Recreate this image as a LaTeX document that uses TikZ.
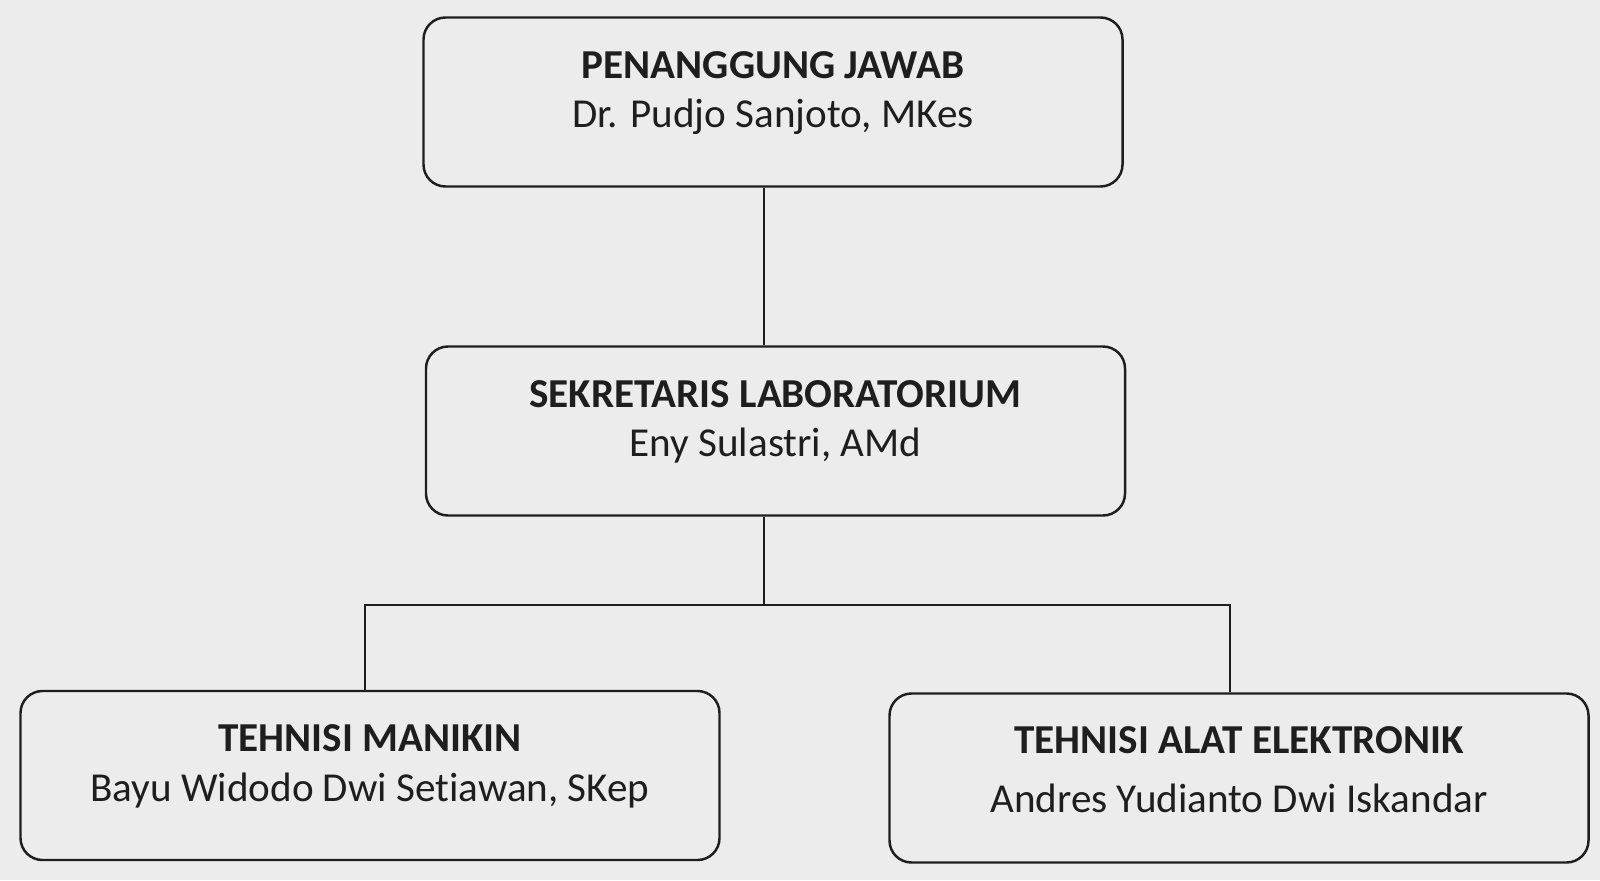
\documentclass[tikz,border=0pt]{standalone}
\usepackage{fontspec}
\setmainfont{Carlito}[Ligatures=NoCommon]
\definecolor{paper}{HTML}{ECECEC}
\definecolor{ink}{HTML}{1E1E1E}
\tikzset{
  orgbox/.style={draw=ink, line width=0.7pt, rounded corners=0.22cm, fill=paper,
    minimum width=6.99cm, minimum height=1.69cm, align=center, inner sep=0pt,
    text depth=0.25cm, font=\fontsize{11.7}{14.2}\selectfont, text=ink},
  link/.style={draw=ink, line width=0.6pt}
}
\begin{document}
\begin{tikzpicture}
% Page and background
\useasboundingbox (0,0) rectangle (16,8.8);
\fill[paper] (0,0) rectangle (16,8.8);

% Boxes
\node[orgbox] (head) at (7.73,7.78){\textbf{PENANGGUNG JAWAB}\\Dr. Pudjo Sanjoto, MKes};
\node[orgbox] (sec) at (7.755,4.49){\textbf{SEKRETARIS LABORATORIUM}\\Eny Sulastri, AMd};
\node[orgbox] (manikin) at (3.70,1.045){\textbf{TEHNISI MANIKIN}\\Bayu Widodo Dwi Setiawan, SKep};
\node[orgbox, text depth=0.17cm] (elektro) at (12.39,1.02){\textbf{TEHNISI ALAT ELEKTRONIK}\\[0.09cm]Andres Yudianto Dwi Iskandar};

% Junction of the branch
\coordinate (branch) at (7.64,2.75);

% Connectors
\draw[link] (head.south -| branch) -- (sec.north -| branch);
\draw[link] (sec.south -| branch) -- (branch);
\draw[link] ([xshift=-0.05cm]manikin.north) |- (branch) -| ([xshift=-0.09cm]elektro.north);
\end{tikzpicture}
\end{document}
